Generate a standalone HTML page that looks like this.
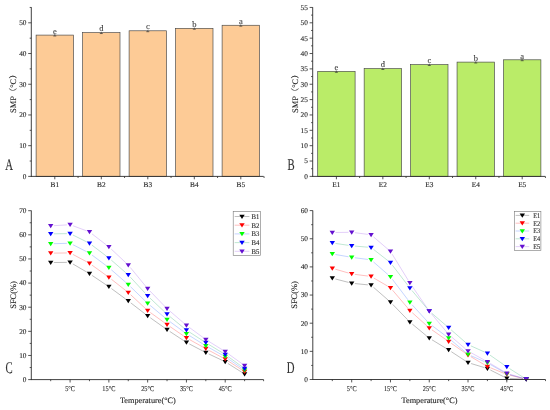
<!DOCTYPE html>
<html><head><meta charset="utf-8"><title>Figure</title>
<style>html,body{margin:0;padding:0;background:#fff;}svg{display:block;font-family:"Liberation Serif", serif;}svg text{stroke:#333;stroke-width:0.12px;text-rendering:geometricPrecision;}</style>
</head><body>
<svg width="550" height="410" viewBox="0 0 550 410">
<rect width="550" height="410" fill="#ffffff"/>
<rect x="36.10" y="35.09" width="37.40" height="141.31" fill="#FDCB96" stroke="#444" stroke-width="0.65"/>
<rect x="82.60" y="32.63" width="37.40" height="143.77" fill="#FDCB96" stroke="#444" stroke-width="0.65"/>
<rect x="129.10" y="30.79" width="37.40" height="145.61" fill="#FDCB96" stroke="#444" stroke-width="0.65"/>
<rect x="175.60" y="28.33" width="37.40" height="148.07" fill="#FDCB96" stroke="#444" stroke-width="0.65"/>
<rect x="222.10" y="25.26" width="37.40" height="151.14" fill="#FDCB96" stroke="#444" stroke-width="0.65"/>
<line x1="54.80" y1="34.49" x2="54.80" y2="35.99" stroke="#333" stroke-width="0.6" />
<line x1="53.30" y1="35.99" x2="56.30" y2="35.99" stroke="#333" stroke-width="0.7" />
<text x="54.80" y="33.79" font-size="8.5" text-anchor="middle" fill="#444" >e</text>
<line x1="101.30" y1="32.03" x2="101.30" y2="33.53" stroke="#333" stroke-width="0.6" />
<line x1="99.80" y1="33.53" x2="102.80" y2="33.53" stroke="#333" stroke-width="0.7" />
<text x="101.30" y="31.33" font-size="8.5" text-anchor="middle" fill="#444" >d</text>
<line x1="147.80" y1="30.19" x2="147.80" y2="31.69" stroke="#333" stroke-width="0.6" />
<line x1="146.30" y1="31.69" x2="149.30" y2="31.69" stroke="#333" stroke-width="0.7" />
<text x="147.80" y="29.49" font-size="8.5" text-anchor="middle" fill="#444" >c</text>
<line x1="194.30" y1="27.73" x2="194.30" y2="29.23" stroke="#333" stroke-width="0.6" />
<line x1="192.80" y1="29.23" x2="195.80" y2="29.23" stroke="#333" stroke-width="0.7" />
<text x="194.30" y="27.03" font-size="8.5" text-anchor="middle" fill="#444" >b</text>
<line x1="240.80" y1="24.66" x2="240.80" y2="26.16" stroke="#333" stroke-width="0.6" />
<line x1="239.30" y1="26.16" x2="242.30" y2="26.16" stroke="#333" stroke-width="0.7" />
<text x="240.80" y="23.96" font-size="8.5" text-anchor="middle" fill="#444" >a</text>
<line x1="31.30" y1="7.20" x2="31.30" y2="176.80" stroke="#2b2b2b" stroke-width="0.9" />
<line x1="30.90" y1="176.40" x2="263.70" y2="176.40" stroke="#2b2b2b" stroke-width="0.9" />
<line x1="28.20" y1="176.40" x2="31.30" y2="176.40" stroke="#2b2b2b" stroke-width="0.8" />
<text x="26.50" y="178.75" font-size="7.3" text-anchor="end" fill="#222" >0</text>
<line x1="29.70" y1="161.04" x2="31.30" y2="161.04" stroke="#2b2b2b" stroke-width="0.8" />
<line x1="28.20" y1="145.68" x2="31.30" y2="145.68" stroke="#2b2b2b" stroke-width="0.8" />
<text x="26.50" y="148.03" font-size="7.3" text-anchor="end" fill="#222" >10</text>
<line x1="29.70" y1="130.32" x2="31.30" y2="130.32" stroke="#2b2b2b" stroke-width="0.8" />
<line x1="28.20" y1="114.96" x2="31.30" y2="114.96" stroke="#2b2b2b" stroke-width="0.8" />
<text x="26.50" y="117.31" font-size="7.3" text-anchor="end" fill="#222" >20</text>
<line x1="29.70" y1="99.60" x2="31.30" y2="99.60" stroke="#2b2b2b" stroke-width="0.8" />
<line x1="28.20" y1="84.24" x2="31.30" y2="84.24" stroke="#2b2b2b" stroke-width="0.8" />
<text x="26.50" y="86.59" font-size="7.3" text-anchor="end" fill="#222" >30</text>
<line x1="29.70" y1="68.88" x2="31.30" y2="68.88" stroke="#2b2b2b" stroke-width="0.8" />
<line x1="28.20" y1="53.52" x2="31.30" y2="53.52" stroke="#2b2b2b" stroke-width="0.8" />
<text x="26.50" y="55.87" font-size="7.3" text-anchor="end" fill="#222" >40</text>
<line x1="29.70" y1="38.16" x2="31.30" y2="38.16" stroke="#2b2b2b" stroke-width="0.8" />
<line x1="28.20" y1="22.80" x2="31.30" y2="22.80" stroke="#2b2b2b" stroke-width="0.8" />
<text x="26.50" y="25.15" font-size="7.3" text-anchor="end" fill="#222" >50</text>
<line x1="29.70" y1="7.44" x2="31.30" y2="7.44" stroke="#2b2b2b" stroke-width="0.8" />
<line x1="54.80" y1="176.40" x2="54.80" y2="179.30" stroke="#2b2b2b" stroke-width="0.8" />
<line x1="78.05" y1="176.40" x2="78.05" y2="178.00" stroke="#2b2b2b" stroke-width="0.8" />
<text x="54.80" y="186.90" font-size="7.3" text-anchor="middle" fill="#222" >B1</text>
<line x1="101.30" y1="176.40" x2="101.30" y2="179.30" stroke="#2b2b2b" stroke-width="0.8" />
<line x1="124.55" y1="176.40" x2="124.55" y2="178.00" stroke="#2b2b2b" stroke-width="0.8" />
<text x="101.30" y="186.90" font-size="7.3" text-anchor="middle" fill="#222" >B2</text>
<line x1="147.80" y1="176.40" x2="147.80" y2="179.30" stroke="#2b2b2b" stroke-width="0.8" />
<line x1="171.05" y1="176.40" x2="171.05" y2="178.00" stroke="#2b2b2b" stroke-width="0.8" />
<text x="147.80" y="186.90" font-size="7.3" text-anchor="middle" fill="#222" >B3</text>
<line x1="194.30" y1="176.40" x2="194.30" y2="179.30" stroke="#2b2b2b" stroke-width="0.8" />
<line x1="217.55" y1="176.40" x2="217.55" y2="178.00" stroke="#2b2b2b" stroke-width="0.8" />
<text x="194.30" y="186.90" font-size="7.3" text-anchor="middle" fill="#222" >B4</text>
<line x1="240.80" y1="176.40" x2="240.80" y2="179.30" stroke="#2b2b2b" stroke-width="0.8" />
<line x1="264.05" y1="176.40" x2="264.05" y2="178.00" stroke="#2b2b2b" stroke-width="0.8" />
<text x="240.80" y="186.90" font-size="7.3" text-anchor="middle" fill="#222" >B5</text>
<text transform="translate(16.30,112.90) rotate(-90)" font-size="8.4" text-anchor="start" fill="#222" font-family='"Liberation Serif","Noto Serif CJK SC",serif'>SMP（°C）</text>
<text transform="translate(9.20,170.00) scale(0.66,1)" font-size="16.3" text-anchor="middle" fill="#333">A</text>
<rect x="317.70" y="71.40" width="37.40" height="105.00" fill="#BAEC68" stroke="#444" stroke-width="0.65"/>
<rect x="364.15" y="68.60" width="37.40" height="107.80" fill="#BAEC68" stroke="#444" stroke-width="0.65"/>
<rect x="410.60" y="64.60" width="37.40" height="111.80" fill="#BAEC68" stroke="#444" stroke-width="0.65"/>
<rect x="457.05" y="62.10" width="37.40" height="114.30" fill="#BAEC68" stroke="#444" stroke-width="0.65"/>
<rect x="503.50" y="59.80" width="37.40" height="116.60" fill="#BAEC68" stroke="#444" stroke-width="0.65"/>
<line x1="336.40" y1="70.80" x2="336.40" y2="72.30" stroke="#333" stroke-width="0.6" />
<line x1="334.90" y1="72.30" x2="337.90" y2="72.30" stroke="#333" stroke-width="0.7" />
<text x="336.40" y="70.10" font-size="8.5" text-anchor="middle" fill="#444" >e</text>
<line x1="382.85" y1="68.00" x2="382.85" y2="69.50" stroke="#333" stroke-width="0.6" />
<line x1="381.35" y1="69.50" x2="384.35" y2="69.50" stroke="#333" stroke-width="0.7" />
<text x="382.85" y="67.30" font-size="8.5" text-anchor="middle" fill="#444" >d</text>
<line x1="429.30" y1="64.00" x2="429.30" y2="65.50" stroke="#333" stroke-width="0.6" />
<line x1="427.80" y1="65.50" x2="430.80" y2="65.50" stroke="#333" stroke-width="0.7" />
<text x="429.30" y="63.30" font-size="8.5" text-anchor="middle" fill="#444" >c</text>
<line x1="475.75" y1="61.50" x2="475.75" y2="63.00" stroke="#333" stroke-width="0.6" />
<line x1="474.25" y1="63.00" x2="477.25" y2="63.00" stroke="#333" stroke-width="0.7" />
<text x="475.75" y="60.80" font-size="8.5" text-anchor="middle" fill="#444" >b</text>
<line x1="522.20" y1="59.20" x2="522.20" y2="60.70" stroke="#333" stroke-width="0.6" />
<line x1="520.70" y1="60.70" x2="523.70" y2="60.70" stroke="#333" stroke-width="0.7" />
<text x="522.20" y="58.50" font-size="8.5" text-anchor="middle" fill="#444" >a</text>
<line x1="312.70" y1="7.20" x2="312.70" y2="176.80" stroke="#2b2b2b" stroke-width="0.9" />
<line x1="312.30" y1="176.40" x2="545.30" y2="176.40" stroke="#2b2b2b" stroke-width="0.9" />
<line x1="309.60" y1="176.40" x2="312.70" y2="176.40" stroke="#2b2b2b" stroke-width="0.8" />
<text x="307.90" y="178.75" font-size="7.3" text-anchor="end" fill="#222" >0</text>
<line x1="311.10" y1="168.72" x2="312.70" y2="168.72" stroke="#2b2b2b" stroke-width="0.8" />
<line x1="309.60" y1="161.04" x2="312.70" y2="161.04" stroke="#2b2b2b" stroke-width="0.8" />
<text x="307.90" y="163.39" font-size="7.3" text-anchor="end" fill="#222" >5</text>
<line x1="311.10" y1="153.36" x2="312.70" y2="153.36" stroke="#2b2b2b" stroke-width="0.8" />
<line x1="309.60" y1="145.68" x2="312.70" y2="145.68" stroke="#2b2b2b" stroke-width="0.8" />
<text x="307.90" y="148.03" font-size="7.3" text-anchor="end" fill="#222" >10</text>
<line x1="311.10" y1="138.00" x2="312.70" y2="138.00" stroke="#2b2b2b" stroke-width="0.8" />
<line x1="309.60" y1="130.32" x2="312.70" y2="130.32" stroke="#2b2b2b" stroke-width="0.8" />
<text x="307.90" y="132.67" font-size="7.3" text-anchor="end" fill="#222" >15</text>
<line x1="311.10" y1="122.64" x2="312.70" y2="122.64" stroke="#2b2b2b" stroke-width="0.8" />
<line x1="309.60" y1="114.96" x2="312.70" y2="114.96" stroke="#2b2b2b" stroke-width="0.8" />
<text x="307.90" y="117.31" font-size="7.3" text-anchor="end" fill="#222" >20</text>
<line x1="311.10" y1="107.28" x2="312.70" y2="107.28" stroke="#2b2b2b" stroke-width="0.8" />
<line x1="309.60" y1="99.60" x2="312.70" y2="99.60" stroke="#2b2b2b" stroke-width="0.8" />
<text x="307.90" y="101.95" font-size="7.3" text-anchor="end" fill="#222" >25</text>
<line x1="311.10" y1="91.92" x2="312.70" y2="91.92" stroke="#2b2b2b" stroke-width="0.8" />
<line x1="309.60" y1="84.24" x2="312.70" y2="84.24" stroke="#2b2b2b" stroke-width="0.8" />
<text x="307.90" y="86.59" font-size="7.3" text-anchor="end" fill="#222" >30</text>
<line x1="311.10" y1="76.56" x2="312.70" y2="76.56" stroke="#2b2b2b" stroke-width="0.8" />
<line x1="309.60" y1="68.88" x2="312.70" y2="68.88" stroke="#2b2b2b" stroke-width="0.8" />
<text x="307.90" y="71.23" font-size="7.3" text-anchor="end" fill="#222" >35</text>
<line x1="311.10" y1="61.20" x2="312.70" y2="61.20" stroke="#2b2b2b" stroke-width="0.8" />
<line x1="309.60" y1="53.52" x2="312.70" y2="53.52" stroke="#2b2b2b" stroke-width="0.8" />
<text x="307.90" y="55.87" font-size="7.3" text-anchor="end" fill="#222" >40</text>
<line x1="311.10" y1="45.84" x2="312.70" y2="45.84" stroke="#2b2b2b" stroke-width="0.8" />
<line x1="309.60" y1="38.16" x2="312.70" y2="38.16" stroke="#2b2b2b" stroke-width="0.8" />
<text x="307.90" y="40.51" font-size="7.3" text-anchor="end" fill="#222" >45</text>
<line x1="311.10" y1="30.48" x2="312.70" y2="30.48" stroke="#2b2b2b" stroke-width="0.8" />
<line x1="309.60" y1="22.80" x2="312.70" y2="22.80" stroke="#2b2b2b" stroke-width="0.8" />
<text x="307.90" y="25.15" font-size="7.3" text-anchor="end" fill="#222" >50</text>
<line x1="311.10" y1="15.12" x2="312.70" y2="15.12" stroke="#2b2b2b" stroke-width="0.8" />
<line x1="309.60" y1="7.44" x2="312.70" y2="7.44" stroke="#2b2b2b" stroke-width="0.8" />
<text x="307.90" y="9.79" font-size="7.3" text-anchor="end" fill="#222" >55</text>
<line x1="336.40" y1="176.40" x2="336.40" y2="179.30" stroke="#2b2b2b" stroke-width="0.8" />
<line x1="359.62" y1="176.40" x2="359.62" y2="178.00" stroke="#2b2b2b" stroke-width="0.8" />
<text x="336.40" y="186.90" font-size="7.3" text-anchor="middle" fill="#222" >E1</text>
<line x1="382.85" y1="176.40" x2="382.85" y2="179.30" stroke="#2b2b2b" stroke-width="0.8" />
<line x1="406.07" y1="176.40" x2="406.07" y2="178.00" stroke="#2b2b2b" stroke-width="0.8" />
<text x="382.85" y="186.90" font-size="7.3" text-anchor="middle" fill="#222" >E2</text>
<line x1="429.30" y1="176.40" x2="429.30" y2="179.30" stroke="#2b2b2b" stroke-width="0.8" />
<line x1="452.52" y1="176.40" x2="452.52" y2="178.00" stroke="#2b2b2b" stroke-width="0.8" />
<text x="429.30" y="186.90" font-size="7.3" text-anchor="middle" fill="#222" >E3</text>
<line x1="475.75" y1="176.40" x2="475.75" y2="179.30" stroke="#2b2b2b" stroke-width="0.8" />
<line x1="498.98" y1="176.40" x2="498.98" y2="178.00" stroke="#2b2b2b" stroke-width="0.8" />
<text x="475.75" y="186.90" font-size="7.3" text-anchor="middle" fill="#222" >E4</text>
<line x1="522.20" y1="176.40" x2="522.20" y2="179.30" stroke="#2b2b2b" stroke-width="0.8" />
<line x1="545.43" y1="176.40" x2="545.43" y2="178.00" stroke="#2b2b2b" stroke-width="0.8" />
<text x="522.20" y="186.90" font-size="7.3" text-anchor="middle" fill="#222" >E5</text>
<text transform="translate(297.70,112.90) rotate(-90)" font-size="8.4" text-anchor="start" fill="#222" font-family='"Liberation Serif","Noto Serif CJK SC",serif'>SMP（°C）</text>
<text transform="translate(291.00,170.00) scale(0.66,1)" font-size="16.3" text-anchor="middle" fill="#333">B</text>
<line x1="53.90" y1="262.53" x2="66.89" y2="262.37" stroke="#000000" stroke-width="0.5" stroke-opacity="0.5"/>
<line x1="72.85" y1="263.94" x2="86.72" y2="272.05" stroke="#000000" stroke-width="0.5" stroke-opacity="0.5"/>
<line x1="92.14" y1="275.45" x2="106.21" y2="284.91" stroke="#000000" stroke-width="0.5" stroke-opacity="0.5"/>
<line x1="111.45" y1="288.59" x2="125.68" y2="299.04" stroke="#000000" stroke-width="0.5" stroke-opacity="0.5"/>
<line x1="130.79" y1="302.89" x2="145.12" y2="313.94" stroke="#000000" stroke-width="0.5" stroke-opacity="0.5"/>
<line x1="150.26" y1="317.75" x2="164.43" y2="327.80" stroke="#000000" stroke-width="0.5" stroke-opacity="0.5"/>
<line x1="169.71" y1="331.41" x2="183.76" y2="340.68" stroke="#000000" stroke-width="0.5" stroke-opacity="0.5"/>
<line x1="189.27" y1="343.92" x2="202.98" y2="351.09" stroke="#000000" stroke-width="0.5" stroke-opacity="0.5"/>
<line x1="208.71" y1="353.94" x2="222.32" y2="360.38" stroke="#000000" stroke-width="0.5" stroke-opacity="0.5"/>
<line x1="227.91" y1="363.46" x2="241.90" y2="372.34" stroke="#000000" stroke-width="0.5" stroke-opacity="0.5"/>
<line x1="53.90" y1="253.12" x2="66.89" y2="252.96" stroke="#ff0000" stroke-width="0.5" stroke-opacity="0.5"/>
<line x1="72.91" y1="254.43" x2="86.66" y2="261.78" stroke="#ff0000" stroke-width="0.5" stroke-opacity="0.5"/>
<line x1="92.07" y1="265.17" x2="106.28" y2="275.42" stroke="#ff0000" stroke-width="0.5" stroke-opacity="0.5"/>
<line x1="111.39" y1="279.26" x2="125.74" y2="290.52" stroke="#ff0000" stroke-width="0.5" stroke-opacity="0.5"/>
<line x1="130.60" y1="294.67" x2="145.31" y2="308.40" stroke="#ff0000" stroke-width="0.5" stroke-opacity="0.5"/>
<line x1="150.24" y1="312.46" x2="164.45" y2="322.71" stroke="#ff0000" stroke-width="0.5" stroke-opacity="0.5"/>
<line x1="169.68" y1="326.39" x2="183.79" y2="336.05" stroke="#ff0000" stroke-width="0.5" stroke-opacity="0.5"/>
<line x1="189.22" y1="339.42" x2="203.03" y2="347.15" stroke="#ff0000" stroke-width="0.5" stroke-opacity="0.5"/>
<line x1="208.64" y1="350.22" x2="222.39" y2="357.58" stroke="#ff0000" stroke-width="0.5" stroke-opacity="0.5"/>
<line x1="227.90" y1="360.83" x2="241.91" y2="369.90" stroke="#ff0000" stroke-width="0.5" stroke-opacity="0.5"/>
<line x1="53.90" y1="243.67" x2="66.89" y2="243.35" stroke="#1858ff" stroke-width="0.5" stroke-opacity="0.5"/>
<line x1="72.94" y1="244.72" x2="86.63" y2="251.70" stroke="#1858ff" stroke-width="0.5" stroke-opacity="0.5"/>
<line x1="92.04" y1="255.07" x2="106.31" y2="265.72" stroke="#1858ff" stroke-width="0.5" stroke-opacity="0.5"/>
<line x1="111.28" y1="269.74" x2="125.85" y2="282.43" stroke="#1858ff" stroke-width="0.5" stroke-opacity="0.5"/>
<line x1="130.56" y1="286.76" x2="145.35" y2="301.12" stroke="#1858ff" stroke-width="0.5" stroke-opacity="0.5"/>
<line x1="150.11" y1="305.40" x2="164.58" y2="317.47" stroke="#1858ff" stroke-width="0.5" stroke-opacity="0.5"/>
<line x1="169.62" y1="321.41" x2="183.85" y2="331.86" stroke="#1858ff" stroke-width="0.5" stroke-opacity="0.5"/>
<line x1="189.15" y1="335.44" x2="203.10" y2="344.13" stroke="#1858ff" stroke-width="0.5" stroke-opacity="0.5"/>
<line x1="208.61" y1="347.38" x2="222.42" y2="355.11" stroke="#1858ff" stroke-width="0.5" stroke-opacity="0.5"/>
<line x1="227.84" y1="358.51" x2="241.97" y2="368.36" stroke="#1858ff" stroke-width="0.5" stroke-opacity="0.5"/>
<line x1="53.90" y1="233.81" x2="66.89" y2="233.65" stroke="#00a050" stroke-width="0.5" stroke-opacity="0.5"/>
<line x1="72.95" y1="235.04" x2="86.62" y2="241.84" stroke="#00a050" stroke-width="0.5" stroke-opacity="0.5"/>
<line x1="92.03" y1="245.20" x2="106.32" y2="256.05" stroke="#00a050" stroke-width="0.5" stroke-opacity="0.5"/>
<line x1="111.28" y1="260.09" x2="125.85" y2="272.77" stroke="#00a050" stroke-width="0.5" stroke-opacity="0.5"/>
<line x1="130.43" y1="277.23" x2="145.48" y2="293.52" stroke="#00a050" stroke-width="0.5" stroke-opacity="0.5"/>
<line x1="149.97" y1="298.07" x2="164.72" y2="312.01" stroke="#00a050" stroke-width="0.5" stroke-opacity="0.5"/>
<line x1="169.51" y1="316.24" x2="183.96" y2="328.10" stroke="#00a050" stroke-width="0.5" stroke-opacity="0.5"/>
<line x1="189.12" y1="331.87" x2="203.13" y2="340.94" stroke="#00a050" stroke-width="0.5" stroke-opacity="0.5"/>
<line x1="208.55" y1="344.35" x2="222.48" y2="352.84" stroke="#00a050" stroke-width="0.5" stroke-opacity="0.5"/>
<line x1="227.80" y1="356.38" x2="242.01" y2="366.63" stroke="#00a050" stroke-width="0.5" stroke-opacity="0.5"/>
<line x1="53.89" y1="225.69" x2="66.90" y2="224.88" stroke="#9040e8" stroke-width="0.5" stroke-opacity="0.5"/>
<line x1="73.09" y1="225.80" x2="86.48" y2="230.81" stroke="#9040e8" stroke-width="0.5" stroke-opacity="0.5"/>
<line x1="92.01" y1="233.88" x2="106.34" y2="244.93" stroke="#9040e8" stroke-width="0.5" stroke-opacity="0.5"/>
<line x1="111.21" y1="249.07" x2="125.92" y2="262.80" stroke="#9040e8" stroke-width="0.5" stroke-opacity="0.5"/>
<line x1="130.29" y1="267.46" x2="145.62" y2="286.16" stroke="#9040e8" stroke-width="0.5" stroke-opacity="0.5"/>
<line x1="149.88" y1="290.93" x2="164.81" y2="306.36" stroke="#9040e8" stroke-width="0.5" stroke-opacity="0.5"/>
<line x1="169.47" y1="310.74" x2="184.00" y2="323.22" stroke="#9040e8" stroke-width="0.5" stroke-opacity="0.5"/>
<line x1="189.01" y1="327.20" x2="203.24" y2="337.65" stroke="#9040e8" stroke-width="0.5" stroke-opacity="0.5"/>
<line x1="208.54" y1="341.23" x2="222.49" y2="349.92" stroke="#9040e8" stroke-width="0.5" stroke-opacity="0.5"/>
<line x1="227.80" y1="353.48" x2="242.01" y2="363.73" stroke="#9040e8" stroke-width="0.5" stroke-opacity="0.5"/>
<polygon points="48.00,260.72 53.40,260.72 50.70,264.97" fill="#000000"/>
<polygon points="67.39,260.48 72.79,260.48 70.09,264.73" fill="#000000"/>
<polygon points="86.78,271.82 92.18,271.82 89.48,276.07" fill="#000000"/>
<polygon points="106.17,284.85 111.57,284.85 108.87,289.10" fill="#000000"/>
<polygon points="125.56,299.09 130.96,299.09 128.26,303.34" fill="#000000"/>
<polygon points="144.95,314.05 150.35,314.05 147.65,318.30" fill="#000000"/>
<polygon points="164.34,327.80 169.74,327.80 167.04,332.05" fill="#000000"/>
<polygon points="183.73,340.59 189.13,340.59 186.43,344.84" fill="#000000"/>
<polygon points="203.12,350.72 208.52,350.72 205.82,354.97" fill="#000000"/>
<polygon points="222.51,359.89 227.91,359.89 225.21,364.14" fill="#000000"/>
<polygon points="241.90,372.20 247.30,372.20 244.60,376.45" fill="#000000"/>
<polygon points="48.00,251.31 53.40,251.31 50.70,255.56" fill="#ff0000"/>
<polygon points="67.39,251.07 72.79,251.07 70.09,255.32" fill="#ff0000"/>
<polygon points="86.78,261.44 92.18,261.44 89.48,265.69" fill="#ff0000"/>
<polygon points="106.17,275.44 111.57,275.44 108.87,279.69" fill="#ff0000"/>
<polygon points="125.56,290.64 130.96,290.64 128.26,294.89" fill="#ff0000"/>
<polygon points="144.95,308.74 150.35,308.74 147.65,312.99" fill="#ff0000"/>
<polygon points="164.34,322.73 169.74,322.73 167.04,326.98" fill="#ff0000"/>
<polygon points="183.73,336.01 189.13,336.01 186.43,340.26" fill="#ff0000"/>
<polygon points="203.12,346.86 208.52,346.86 205.82,351.11" fill="#ff0000"/>
<polygon points="222.51,357.24 227.91,357.24 225.21,361.49" fill="#ff0000"/>
<polygon points="241.90,369.79 247.30,369.79 244.60,374.04" fill="#ff0000"/>
<polygon points="48.00,241.90 53.40,241.90 50.70,246.15" fill="#00ff00"/>
<polygon points="67.39,241.42 72.79,241.42 70.09,245.67" fill="#00ff00"/>
<polygon points="86.78,251.31 92.18,251.31 89.48,255.56" fill="#00ff00"/>
<polygon points="106.17,265.79 111.57,265.79 108.87,270.04" fill="#00ff00"/>
<polygon points="125.56,282.68 130.96,282.68 128.26,286.93" fill="#00ff00"/>
<polygon points="144.95,301.50 150.35,301.50 147.65,305.75" fill="#00ff00"/>
<polygon points="164.34,317.67 169.74,317.67 167.04,321.92" fill="#00ff00"/>
<polygon points="183.73,331.90 189.13,331.90 186.43,336.15" fill="#00ff00"/>
<polygon points="203.12,343.97 208.52,343.97 205.82,348.22" fill="#00ff00"/>
<polygon points="222.51,354.83 227.91,354.83 225.21,359.08" fill="#00ff00"/>
<polygon points="241.90,368.34 247.30,368.34 244.60,372.59" fill="#00ff00"/>
<polygon points="48.00,232.00 53.40,232.00 50.70,236.25" fill="#0000ff"/>
<polygon points="67.39,231.76 72.79,231.76 70.09,236.01" fill="#0000ff"/>
<polygon points="86.78,241.42 92.18,241.42 89.48,245.67" fill="#0000ff"/>
<polygon points="106.17,256.13 111.57,256.13 108.87,260.38" fill="#0000ff"/>
<polygon points="125.56,273.03 130.96,273.03 128.26,277.28" fill="#0000ff"/>
<polygon points="144.95,294.02 150.35,294.02 147.65,298.27" fill="#0000ff"/>
<polygon points="164.34,312.36 169.74,312.36 167.04,316.61" fill="#0000ff"/>
<polygon points="183.73,328.28 189.13,328.28 186.43,332.53" fill="#0000ff"/>
<polygon points="203.12,340.83 208.52,340.83 205.82,345.08" fill="#0000ff"/>
<polygon points="222.51,352.65 227.91,352.65 225.21,356.90" fill="#0000ff"/>
<polygon points="241.90,366.65 247.30,366.65 244.60,370.90" fill="#0000ff"/>
<polygon points="48.00,224.04 53.40,224.04 50.70,228.29" fill="#6410d0"/>
<polygon points="67.39,222.84 72.79,222.84 70.09,227.09" fill="#6410d0"/>
<polygon points="86.78,230.07 92.18,230.07 89.48,234.32" fill="#6410d0"/>
<polygon points="106.17,245.04 111.57,245.04 108.87,249.29" fill="#6410d0"/>
<polygon points="125.56,263.13 130.96,263.13 128.26,267.38" fill="#6410d0"/>
<polygon points="144.95,286.78 150.35,286.78 147.65,291.03" fill="#6410d0"/>
<polygon points="164.34,306.81 169.74,306.81 167.04,311.06" fill="#6410d0"/>
<polygon points="183.73,323.46 189.13,323.46 186.43,327.71" fill="#6410d0"/>
<polygon points="203.12,337.69 208.52,337.69 205.82,341.94" fill="#6410d0"/>
<polygon points="222.51,349.76 227.91,349.76 225.21,354.01" fill="#6410d0"/>
<polygon points="241.90,363.75 247.30,363.75 244.60,368.00" fill="#6410d0"/>
<line x1="31.30" y1="210.50" x2="31.30" y2="380.00" stroke="#2b2b2b" stroke-width="0.9" />
<line x1="30.90" y1="379.60" x2="263.60" y2="379.60" stroke="#2b2b2b" stroke-width="0.9" />
<line x1="28.20" y1="379.60" x2="31.30" y2="379.60" stroke="#2b2b2b" stroke-width="0.8" />
<text x="26.50" y="381.95" font-size="7.3" text-anchor="end" fill="#222" >0</text>
<line x1="29.70" y1="367.54" x2="31.30" y2="367.54" stroke="#2b2b2b" stroke-width="0.8" />
<line x1="28.20" y1="355.47" x2="31.30" y2="355.47" stroke="#2b2b2b" stroke-width="0.8" />
<text x="26.50" y="357.82" font-size="7.3" text-anchor="end" fill="#222" >10</text>
<line x1="29.70" y1="343.41" x2="31.30" y2="343.41" stroke="#2b2b2b" stroke-width="0.8" />
<line x1="28.20" y1="331.34" x2="31.30" y2="331.34" stroke="#2b2b2b" stroke-width="0.8" />
<text x="26.50" y="333.69" font-size="7.3" text-anchor="end" fill="#222" >20</text>
<line x1="29.70" y1="319.28" x2="31.30" y2="319.28" stroke="#2b2b2b" stroke-width="0.8" />
<line x1="28.20" y1="307.21" x2="31.30" y2="307.21" stroke="#2b2b2b" stroke-width="0.8" />
<text x="26.50" y="309.56" font-size="7.3" text-anchor="end" fill="#222" >30</text>
<line x1="29.70" y1="295.15" x2="31.30" y2="295.15" stroke="#2b2b2b" stroke-width="0.8" />
<line x1="28.20" y1="283.08" x2="31.30" y2="283.08" stroke="#2b2b2b" stroke-width="0.8" />
<text x="26.50" y="285.43" font-size="7.3" text-anchor="end" fill="#222" >40</text>
<line x1="29.70" y1="271.02" x2="31.30" y2="271.02" stroke="#2b2b2b" stroke-width="0.8" />
<line x1="28.20" y1="258.95" x2="31.30" y2="258.95" stroke="#2b2b2b" stroke-width="0.8" />
<text x="26.50" y="261.30" font-size="7.3" text-anchor="end" fill="#222" >50</text>
<line x1="29.70" y1="246.89" x2="31.30" y2="246.89" stroke="#2b2b2b" stroke-width="0.8" />
<line x1="28.20" y1="234.82" x2="31.30" y2="234.82" stroke="#2b2b2b" stroke-width="0.8" />
<text x="26.50" y="237.17" font-size="7.3" text-anchor="end" fill="#222" >60</text>
<line x1="29.70" y1="222.76" x2="31.30" y2="222.76" stroke="#2b2b2b" stroke-width="0.8" />
<line x1="28.20" y1="210.69" x2="31.30" y2="210.69" stroke="#2b2b2b" stroke-width="0.8" />
<text x="26.50" y="213.04" font-size="7.3" text-anchor="end" fill="#222" >70</text>
<line x1="50.70" y1="379.60" x2="50.70" y2="381.20" stroke="#2b2b2b" stroke-width="0.8" />
<line x1="70.09" y1="379.60" x2="70.09" y2="382.50" stroke="#2b2b2b" stroke-width="0.8" />
<text x="70.09" y="390.90" font-size="7.4" text-anchor="middle" fill="#222" textLength="9.8" lengthAdjust="spacingAndGlyphs" >5°C</text>
<line x1="89.48" y1="379.60" x2="89.48" y2="381.20" stroke="#2b2b2b" stroke-width="0.8" />
<line x1="108.87" y1="379.60" x2="108.87" y2="382.50" stroke="#2b2b2b" stroke-width="0.8" />
<text x="108.87" y="390.90" font-size="7.4" text-anchor="middle" fill="#222" textLength="13" lengthAdjust="spacingAndGlyphs" >15°C</text>
<line x1="128.26" y1="379.60" x2="128.26" y2="381.20" stroke="#2b2b2b" stroke-width="0.8" />
<line x1="147.65" y1="379.60" x2="147.65" y2="382.50" stroke="#2b2b2b" stroke-width="0.8" />
<text x="147.65" y="390.90" font-size="7.4" text-anchor="middle" fill="#222" textLength="13" lengthAdjust="spacingAndGlyphs" >25°C</text>
<line x1="167.04" y1="379.60" x2="167.04" y2="381.20" stroke="#2b2b2b" stroke-width="0.8" />
<line x1="186.43" y1="379.60" x2="186.43" y2="382.50" stroke="#2b2b2b" stroke-width="0.8" />
<text x="186.43" y="390.90" font-size="7.4" text-anchor="middle" fill="#222" textLength="13" lengthAdjust="spacingAndGlyphs" >35°C</text>
<line x1="205.82" y1="379.60" x2="205.82" y2="381.20" stroke="#2b2b2b" stroke-width="0.8" />
<line x1="225.21" y1="379.60" x2="225.21" y2="382.50" stroke="#2b2b2b" stroke-width="0.8" />
<text x="225.21" y="390.90" font-size="7.4" text-anchor="middle" fill="#222" textLength="13" lengthAdjust="spacingAndGlyphs" >45°C</text>
<line x1="244.60" y1="379.60" x2="244.60" y2="381.20" stroke="#2b2b2b" stroke-width="0.8" />
<line x1="263.60" y1="379.60" x2="263.60" y2="381.20" stroke="#2b2b2b" stroke-width="0.8" />
<text x="147.80" y="403.40" font-size="8.2" text-anchor="middle" fill="#222" textLength="55.8" lengthAdjust="spacingAndGlyphs" >Temperature(°C)</text>
<text transform="translate(15.90,295) rotate(-90)" font-size="8.4" text-anchor="middle" fill="#222" textLength="27.5" lengthAdjust="spacingAndGlyphs">SFC(%)</text>
<rect x="233.2" y="211.4" width="27.10" height="44.10" fill="#fff" stroke="#777" stroke-width="0.6"/>
<line x1="234.70" y1="216.50" x2="249.40" y2="216.50" stroke="#000000" stroke-width="0.5" stroke-opacity="0.5"/>
<polygon points="239.30,214.65 244.70,214.65 242.00,218.90" fill="#000000"/>
<text x="251.60" y="218.80" font-size="7.2" text-anchor="start" fill="#222" textLength="7.8" lengthAdjust="spacingAndGlyphs" >B1</text>
<line x1="234.70" y1="225.20" x2="249.40" y2="225.20" stroke="#ff0000" stroke-width="0.5" stroke-opacity="0.5"/>
<polygon points="239.30,223.35 244.70,223.35 242.00,227.60" fill="#ff0000"/>
<text x="251.60" y="227.50" font-size="7.2" text-anchor="start" fill="#222" textLength="7.8" lengthAdjust="spacingAndGlyphs" >B2</text>
<line x1="234.70" y1="233.90" x2="249.40" y2="233.90" stroke="#1858ff" stroke-width="0.5" stroke-opacity="0.5"/>
<polygon points="239.30,232.05 244.70,232.05 242.00,236.30" fill="#00ff00"/>
<text x="251.60" y="236.20" font-size="7.2" text-anchor="start" fill="#222" textLength="7.8" lengthAdjust="spacingAndGlyphs" >B3</text>
<line x1="234.70" y1="242.60" x2="249.40" y2="242.60" stroke="#00a050" stroke-width="0.5" stroke-opacity="0.5"/>
<polygon points="239.30,240.75 244.70,240.75 242.00,245.00" fill="#0000ff"/>
<text x="251.60" y="244.90" font-size="7.2" text-anchor="start" fill="#222" textLength="7.8" lengthAdjust="spacingAndGlyphs" >B4</text>
<line x1="234.70" y1="251.30" x2="249.40" y2="251.30" stroke="#9040e8" stroke-width="0.5" stroke-opacity="0.5"/>
<polygon points="239.30,249.45 244.70,249.45 242.00,253.70" fill="#6410d0"/>
<text x="251.60" y="253.60" font-size="7.2" text-anchor="start" fill="#222" textLength="7.8" lengthAdjust="spacingAndGlyphs" >B5</text>
<text transform="translate(9.20,372.80) scale(0.66,1)" font-size="16.3" text-anchor="middle" fill="#333">C</text>
<line x1="335.40" y1="278.97" x2="348.59" y2="282.42" stroke="#000000" stroke-width="0.5" stroke-opacity="0.5"/>
<line x1="354.87" y1="283.55" x2="367.90" y2="284.87" stroke="#000000" stroke-width="0.5" stroke-opacity="0.5"/>
<line x1="373.49" y1="287.30" x2="388.06" y2="299.99" stroke="#000000" stroke-width="0.5" stroke-opacity="0.5"/>
<line x1="392.70" y1="304.38" x2="407.63" y2="319.78" stroke="#000000" stroke-width="0.5" stroke-opacity="0.5"/>
<line x1="412.33" y1="324.11" x2="426.78" y2="336.08" stroke="#000000" stroke-width="0.5" stroke-opacity="0.5"/>
<line x1="431.98" y1="339.79" x2="445.91" y2="348.28" stroke="#000000" stroke-width="0.5" stroke-opacity="0.5"/>
<line x1="451.32" y1="351.69" x2="465.35" y2="360.86" stroke="#000000" stroke-width="0.5" stroke-opacity="0.5"/>
<line x1="471.09" y1="363.54" x2="484.36" y2="367.59" stroke="#000000" stroke-width="0.5" stroke-opacity="0.5"/>
<line x1="490.27" y1="369.97" x2="503.96" y2="376.92" stroke="#000000" stroke-width="0.5" stroke-opacity="0.5"/>
<line x1="510.01" y1="378.51" x2="523.00" y2="379.08" stroke="#000000" stroke-width="0.5" stroke-opacity="0.5"/>
<line x1="335.37" y1="269.20" x2="348.62" y2="273.05" stroke="#ff0000" stroke-width="0.5" stroke-opacity="0.5"/>
<line x1="354.86" y1="274.35" x2="367.91" y2="276.06" stroke="#ff0000" stroke-width="0.5" stroke-opacity="0.5"/>
<line x1="373.85" y1="278.08" x2="387.70" y2="286.12" stroke="#ff0000" stroke-width="0.5" stroke-opacity="0.5"/>
<line x1="392.54" y1="290.17" x2="407.79" y2="308.09" stroke="#ff0000" stroke-width="0.5" stroke-opacity="0.5"/>
<line x1="412.24" y1="312.67" x2="426.87" y2="325.84" stroke="#ff0000" stroke-width="0.5" stroke-opacity="0.5"/>
<line x1="431.88" y1="329.82" x2="446.01" y2="339.67" stroke="#ff0000" stroke-width="0.5" stroke-opacity="0.5"/>
<line x1="451.27" y1="343.33" x2="465.40" y2="353.18" stroke="#ff0000" stroke-width="0.5" stroke-opacity="0.5"/>
<line x1="470.78" y1="356.65" x2="484.67" y2="364.91" stroke="#ff0000" stroke-width="0.5" stroke-opacity="0.5"/>
<line x1="490.38" y1="367.76" x2="503.85" y2="373.23" stroke="#ff0000" stroke-width="0.5" stroke-opacity="0.5"/>
<line x1="509.92" y1="375.20" x2="523.09" y2="378.45" stroke="#ff0000" stroke-width="0.5" stroke-opacity="0.5"/>
<line x1="335.45" y1="254.50" x2="348.54" y2="256.78" stroke="#1858ff" stroke-width="0.5" stroke-opacity="0.5"/>
<line x1="354.86" y1="257.74" x2="367.91" y2="259.45" stroke="#1858ff" stroke-width="0.5" stroke-opacity="0.5"/>
<line x1="373.49" y1="261.96" x2="388.06" y2="274.65" stroke="#1858ff" stroke-width="0.5" stroke-opacity="0.5"/>
<line x1="392.40" y1="279.30" x2="407.93" y2="299.82" stroke="#1858ff" stroke-width="0.5" stroke-opacity="0.5"/>
<line x1="412.02" y1="304.73" x2="427.09" y2="321.12" stroke="#1858ff" stroke-width="0.5" stroke-opacity="0.5"/>
<line x1="431.80" y1="325.41" x2="446.09" y2="336.19" stroke="#1858ff" stroke-width="0.5" stroke-opacity="0.5"/>
<line x1="451.09" y1="340.18" x2="465.58" y2="352.39" stroke="#1858ff" stroke-width="0.5" stroke-opacity="0.5"/>
<line x1="470.96" y1="355.72" x2="484.49" y2="361.61" stroke="#1858ff" stroke-width="0.5" stroke-opacity="0.5"/>
<line x1="490.20" y1="364.47" x2="504.03" y2="372.29" stroke="#1858ff" stroke-width="0.5" stroke-opacity="0.5"/>
<line x1="509.89" y1="374.72" x2="523.12" y2="378.37" stroke="#1858ff" stroke-width="0.5" stroke-opacity="0.5"/>
<line x1="335.47" y1="243.43" x2="348.52" y2="245.33" stroke="#00a050" stroke-width="0.5" stroke-opacity="0.5"/>
<line x1="354.88" y1="246.07" x2="367.89" y2="247.20" stroke="#00a050" stroke-width="0.5" stroke-opacity="0.5"/>
<line x1="373.60" y1="249.45" x2="387.95" y2="260.70" stroke="#00a050" stroke-width="0.5" stroke-opacity="0.5"/>
<line x1="392.41" y1="265.22" x2="407.92" y2="285.47" stroke="#00a050" stroke-width="0.5" stroke-opacity="0.5"/>
<line x1="411.92" y1="290.46" x2="427.19" y2="308.65" stroke="#00a050" stroke-width="0.5" stroke-opacity="0.5"/>
<line x1="431.68" y1="313.18" x2="446.21" y2="325.62" stroke="#00a050" stroke-width="0.5" stroke-opacity="0.5"/>
<line x1="451.05" y1="329.81" x2="465.62" y2="342.49" stroke="#00a050" stroke-width="0.5" stroke-opacity="0.5"/>
<line x1="470.95" y1="345.91" x2="484.50" y2="352.01" stroke="#00a050" stroke-width="0.5" stroke-opacity="0.5"/>
<line x1="490.05" y1="355.15" x2="504.18" y2="365.00" stroke="#00a050" stroke-width="0.5" stroke-opacity="0.5"/>
<line x1="509.51" y1="368.56" x2="523.50" y2="377.50" stroke="#00a050" stroke-width="0.5" stroke-opacity="0.5"/>
<line x1="335.50" y1="232.51" x2="348.49" y2="232.32" stroke="#9040e8" stroke-width="0.5" stroke-opacity="0.5"/>
<line x1="354.86" y1="232.69" x2="367.91" y2="234.39" stroke="#9040e8" stroke-width="0.5" stroke-opacity="0.5"/>
<line x1="373.51" y1="236.89" x2="388.04" y2="249.34" stroke="#9040e8" stroke-width="0.5" stroke-opacity="0.5"/>
<line x1="392.15" y1="254.14" x2="408.18" y2="280.22" stroke="#9040e8" stroke-width="0.5" stroke-opacity="0.5"/>
<line x1="411.68" y1="285.58" x2="427.43" y2="308.46" stroke="#9040e8" stroke-width="0.5" stroke-opacity="0.5"/>
<line x1="431.29" y1="313.56" x2="446.60" y2="332.00" stroke="#9040e8" stroke-width="0.5" stroke-opacity="0.5"/>
<line x1="451.07" y1="336.54" x2="465.60" y2="348.99" stroke="#9040e8" stroke-width="0.5" stroke-opacity="0.5"/>
<line x1="470.83" y1="352.61" x2="484.62" y2="360.22" stroke="#9040e8" stroke-width="0.5" stroke-opacity="0.5"/>
<line x1="490.17" y1="363.40" x2="504.06" y2="371.67" stroke="#9040e8" stroke-width="0.5" stroke-opacity="0.5"/>
<line x1="509.87" y1="374.24" x2="523.14" y2="378.29" stroke="#9040e8" stroke-width="0.5" stroke-opacity="0.5"/>
<polygon points="329.60,276.31 335.00,276.31 332.30,280.56" fill="#000000"/>
<polygon points="348.99,281.38 354.39,281.38 351.69,285.63" fill="#000000"/>
<polygon points="368.38,283.35 373.78,283.35 371.08,287.60" fill="#000000"/>
<polygon points="387.77,300.24 393.17,300.24 390.47,304.49" fill="#000000"/>
<polygon points="407.16,320.22 412.56,320.22 409.86,324.47" fill="#000000"/>
<polygon points="426.55,336.27 431.95,336.27 429.25,340.52" fill="#000000"/>
<polygon points="445.94,348.09 451.34,348.09 448.64,352.34" fill="#000000"/>
<polygon points="465.33,360.76 470.73,360.76 468.03,365.01" fill="#000000"/>
<polygon points="484.72,366.67 490.12,366.67 487.42,370.92" fill="#000000"/>
<polygon points="504.11,376.52 509.51,376.52 506.81,380.77" fill="#000000"/>
<polygon points="523.50,377.37 528.90,377.37 526.20,381.62" fill="#000000"/>
<polygon points="329.60,266.46 335.00,266.46 332.30,270.71" fill="#ff0000"/>
<polygon points="348.99,272.09 354.39,272.09 351.69,276.34" fill="#ff0000"/>
<polygon points="368.38,274.62 373.78,274.62 371.08,278.87" fill="#ff0000"/>
<polygon points="387.77,285.88 393.17,285.88 390.47,290.13" fill="#ff0000"/>
<polygon points="407.16,308.68 412.56,308.68 409.86,312.93" fill="#ff0000"/>
<polygon points="426.55,326.14 431.95,326.14 429.25,330.39" fill="#ff0000"/>
<polygon points="445.94,339.65 451.34,339.65 448.64,343.90" fill="#ff0000"/>
<polygon points="465.33,353.16 470.73,353.16 468.03,357.41" fill="#ff0000"/>
<polygon points="484.72,364.70 490.12,364.70 487.42,368.95" fill="#ff0000"/>
<polygon points="504.11,372.58 509.51,372.58 506.81,376.83" fill="#ff0000"/>
<polygon points="523.50,377.37 528.90,377.37 526.20,381.62" fill="#ff0000"/>
<polygon points="329.60,252.10 335.00,252.10 332.30,256.35" fill="#00ff00"/>
<polygon points="348.99,255.48 354.39,255.48 351.69,259.73" fill="#00ff00"/>
<polygon points="368.38,258.01 373.78,258.01 371.08,262.26" fill="#00ff00"/>
<polygon points="387.77,274.90 393.17,274.90 390.47,279.15" fill="#00ff00"/>
<polygon points="407.16,300.52 412.56,300.52 409.86,304.77" fill="#00ff00"/>
<polygon points="426.55,321.63 431.95,321.63 429.25,325.88" fill="#00ff00"/>
<polygon points="445.94,336.27 451.34,336.27 448.64,340.52" fill="#00ff00"/>
<polygon points="465.33,352.60 470.73,352.60 468.03,356.85" fill="#00ff00"/>
<polygon points="484.72,361.04 490.12,361.04 487.42,365.29" fill="#00ff00"/>
<polygon points="504.11,372.02 509.51,372.02 506.81,376.27" fill="#00ff00"/>
<polygon points="523.50,377.37 528.90,377.37 526.20,381.62" fill="#00ff00"/>
<polygon points="329.60,241.12 335.00,241.12 332.30,245.37" fill="#0000ff"/>
<polygon points="348.99,243.94 354.39,243.94 351.69,248.19" fill="#0000ff"/>
<polygon points="368.38,245.63 373.78,245.63 371.08,249.88" fill="#0000ff"/>
<polygon points="387.77,260.83 393.17,260.83 390.47,265.08" fill="#0000ff"/>
<polygon points="407.16,286.16 412.56,286.16 409.86,290.41" fill="#0000ff"/>
<polygon points="426.55,309.25 431.95,309.25 429.25,313.50" fill="#0000ff"/>
<polygon points="445.94,325.85 451.34,325.85 448.64,330.10" fill="#0000ff"/>
<polygon points="465.33,342.74 470.73,342.74 468.03,346.99" fill="#0000ff"/>
<polygon points="484.72,351.47 490.12,351.47 487.42,355.72" fill="#0000ff"/>
<polygon points="504.11,364.98 509.51,364.98 506.81,369.23" fill="#0000ff"/>
<polygon points="523.50,377.37 528.90,377.37 526.20,381.62" fill="#0000ff"/>
<polygon points="329.60,230.71 335.00,230.71 332.30,234.96" fill="#6410d0"/>
<polygon points="348.99,230.43 354.39,230.43 351.69,234.68" fill="#6410d0"/>
<polygon points="368.38,232.96 373.78,232.96 371.08,237.21" fill="#6410d0"/>
<polygon points="387.77,249.57 393.17,249.57 390.47,253.82" fill="#6410d0"/>
<polygon points="407.16,281.10 412.56,281.10 409.86,285.35" fill="#6410d0"/>
<polygon points="426.55,309.25 431.95,309.25 429.25,313.50" fill="#6410d0"/>
<polygon points="445.94,332.61 451.34,332.61 448.64,336.86" fill="#6410d0"/>
<polygon points="465.33,349.22 470.73,349.22 468.03,353.47" fill="#6410d0"/>
<polygon points="484.72,359.92 490.12,359.92 487.42,364.17" fill="#6410d0"/>
<polygon points="504.11,371.46 509.51,371.46 506.81,375.71" fill="#6410d0"/>
<polygon points="523.50,377.37 528.90,377.37 526.20,381.62" fill="#6410d0"/>
<line x1="312.80" y1="210.50" x2="312.80" y2="379.90" stroke="#2b2b2b" stroke-width="0.9" />
<line x1="312.40" y1="379.50" x2="545.50" y2="379.50" stroke="#2b2b2b" stroke-width="0.9" />
<line x1="309.70" y1="379.50" x2="312.80" y2="379.50" stroke="#2b2b2b" stroke-width="0.8" />
<text x="308.00" y="381.85" font-size="7.3" text-anchor="end" fill="#222" >0</text>
<line x1="311.20" y1="365.43" x2="312.80" y2="365.43" stroke="#2b2b2b" stroke-width="0.8" />
<line x1="309.70" y1="351.35" x2="312.80" y2="351.35" stroke="#2b2b2b" stroke-width="0.8" />
<text x="308.00" y="353.70" font-size="7.3" text-anchor="end" fill="#222" >10</text>
<line x1="311.20" y1="337.27" x2="312.80" y2="337.27" stroke="#2b2b2b" stroke-width="0.8" />
<line x1="309.70" y1="323.20" x2="312.80" y2="323.20" stroke="#2b2b2b" stroke-width="0.8" />
<text x="308.00" y="325.55" font-size="7.3" text-anchor="end" fill="#222" >20</text>
<line x1="311.20" y1="309.12" x2="312.80" y2="309.12" stroke="#2b2b2b" stroke-width="0.8" />
<line x1="309.70" y1="295.05" x2="312.80" y2="295.05" stroke="#2b2b2b" stroke-width="0.8" />
<text x="308.00" y="297.40" font-size="7.3" text-anchor="end" fill="#222" >30</text>
<line x1="311.20" y1="280.98" x2="312.80" y2="280.98" stroke="#2b2b2b" stroke-width="0.8" />
<line x1="309.70" y1="266.90" x2="312.80" y2="266.90" stroke="#2b2b2b" stroke-width="0.8" />
<text x="308.00" y="269.25" font-size="7.3" text-anchor="end" fill="#222" >40</text>
<line x1="311.20" y1="252.82" x2="312.80" y2="252.82" stroke="#2b2b2b" stroke-width="0.8" />
<line x1="309.70" y1="238.75" x2="312.80" y2="238.75" stroke="#2b2b2b" stroke-width="0.8" />
<text x="308.00" y="241.10" font-size="7.3" text-anchor="end" fill="#222" >50</text>
<line x1="311.20" y1="224.68" x2="312.80" y2="224.68" stroke="#2b2b2b" stroke-width="0.8" />
<line x1="309.70" y1="210.60" x2="312.80" y2="210.60" stroke="#2b2b2b" stroke-width="0.8" />
<text x="308.00" y="212.95" font-size="7.3" text-anchor="end" fill="#222" >60</text>
<line x1="332.30" y1="379.50" x2="332.30" y2="381.10" stroke="#2b2b2b" stroke-width="0.8" />
<line x1="351.69" y1="379.50" x2="351.69" y2="382.40" stroke="#2b2b2b" stroke-width="0.8" />
<text x="351.69" y="390.80" font-size="7.4" text-anchor="middle" fill="#222" textLength="9.8" lengthAdjust="spacingAndGlyphs" >5°C</text>
<line x1="371.08" y1="379.50" x2="371.08" y2="381.10" stroke="#2b2b2b" stroke-width="0.8" />
<line x1="390.47" y1="379.50" x2="390.47" y2="382.40" stroke="#2b2b2b" stroke-width="0.8" />
<text x="390.47" y="390.80" font-size="7.4" text-anchor="middle" fill="#222" textLength="13" lengthAdjust="spacingAndGlyphs" >15°C</text>
<line x1="409.86" y1="379.50" x2="409.86" y2="381.10" stroke="#2b2b2b" stroke-width="0.8" />
<line x1="429.25" y1="379.50" x2="429.25" y2="382.40" stroke="#2b2b2b" stroke-width="0.8" />
<text x="429.25" y="390.80" font-size="7.4" text-anchor="middle" fill="#222" textLength="13" lengthAdjust="spacingAndGlyphs" >25°C</text>
<line x1="448.64" y1="379.50" x2="448.64" y2="381.10" stroke="#2b2b2b" stroke-width="0.8" />
<line x1="468.03" y1="379.50" x2="468.03" y2="382.40" stroke="#2b2b2b" stroke-width="0.8" />
<text x="468.03" y="390.80" font-size="7.4" text-anchor="middle" fill="#222" textLength="13" lengthAdjust="spacingAndGlyphs" >35°C</text>
<line x1="487.42" y1="379.50" x2="487.42" y2="381.10" stroke="#2b2b2b" stroke-width="0.8" />
<line x1="506.81" y1="379.50" x2="506.81" y2="382.40" stroke="#2b2b2b" stroke-width="0.8" />
<text x="506.81" y="390.80" font-size="7.4" text-anchor="middle" fill="#222" textLength="13" lengthAdjust="spacingAndGlyphs" >45°C</text>
<line x1="526.20" y1="379.50" x2="526.20" y2="381.10" stroke="#2b2b2b" stroke-width="0.8" />
<line x1="545.50" y1="379.50" x2="545.50" y2="381.10" stroke="#2b2b2b" stroke-width="0.8" />
<text x="429.50" y="403.40" font-size="8.2" text-anchor="middle" fill="#222" textLength="55.8" lengthAdjust="spacingAndGlyphs" >Temperature(°C)</text>
<text transform="translate(297.40,295) rotate(-90)" font-size="8.4" text-anchor="middle" fill="#222" textLength="27.5" lengthAdjust="spacingAndGlyphs">SFC(%)</text>
<rect x="514.3" y="211.3" width="26.60" height="39.30" fill="#fff" stroke="#777" stroke-width="0.6"/>
<line x1="515.60" y1="215.40" x2="529.20" y2="215.40" stroke="#000000" stroke-width="0.5" stroke-opacity="0.5"/>
<polygon points="519.60,213.55 525.00,213.55 522.30,217.80" fill="#000000"/>
<text x="533.20" y="217.70" font-size="7.2" text-anchor="start" fill="#222" textLength="6.9" lengthAdjust="spacingAndGlyphs" >E1</text>
<line x1="515.60" y1="223.20" x2="529.20" y2="223.20" stroke="#ff0000" stroke-width="0.5" stroke-opacity="0.5"/>
<polygon points="519.60,221.35 525.00,221.35 522.30,225.60" fill="#ff0000"/>
<text x="533.20" y="225.50" font-size="7.2" text-anchor="start" fill="#222" textLength="6.9" lengthAdjust="spacingAndGlyphs" >E2</text>
<line x1="515.60" y1="231.00" x2="529.20" y2="231.00" stroke="#1858ff" stroke-width="0.5" stroke-opacity="0.5"/>
<polygon points="519.60,229.15 525.00,229.15 522.30,233.40" fill="#00ff00"/>
<text x="533.20" y="233.30" font-size="7.2" text-anchor="start" fill="#222" textLength="6.9" lengthAdjust="spacingAndGlyphs" >E3</text>
<line x1="515.60" y1="238.80" x2="529.20" y2="238.80" stroke="#00a050" stroke-width="0.5" stroke-opacity="0.5"/>
<polygon points="519.60,236.95 525.00,236.95 522.30,241.20" fill="#0000ff"/>
<text x="533.20" y="241.10" font-size="7.2" text-anchor="start" fill="#222" textLength="6.9" lengthAdjust="spacingAndGlyphs" >E4</text>
<line x1="515.60" y1="246.60" x2="529.20" y2="246.60" stroke="#9040e8" stroke-width="0.5" stroke-opacity="0.5"/>
<polygon points="519.60,244.75 525.00,244.75 522.30,249.00" fill="#6410d0"/>
<text x="533.20" y="248.90" font-size="7.2" text-anchor="start" fill="#222" textLength="6.9" lengthAdjust="spacingAndGlyphs" >E5</text>
<text transform="translate(290.70,373.20) scale(0.66,1)" font-size="16.3" text-anchor="middle" fill="#333">D</text>
</svg>
</body></html>
